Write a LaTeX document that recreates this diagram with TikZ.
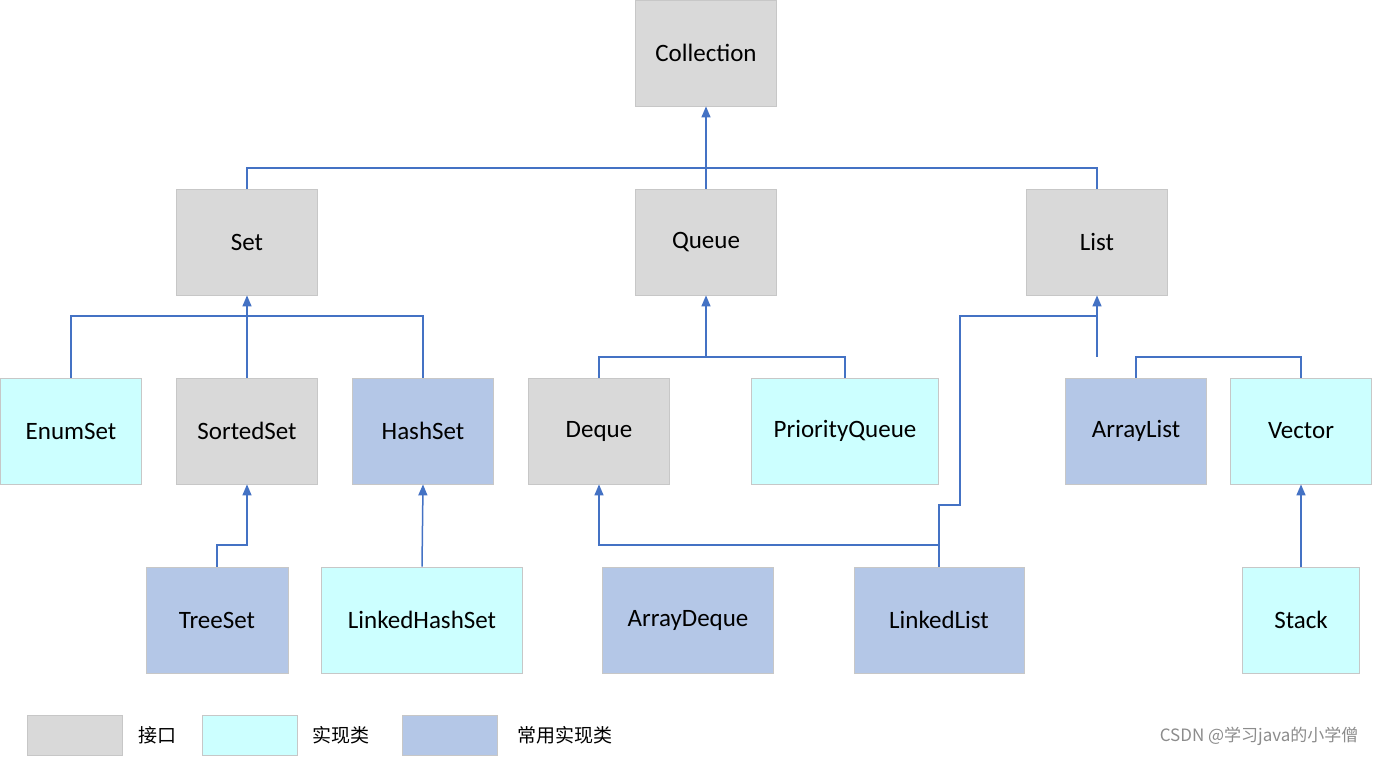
\documentclass[tikz,border=0pt]{standalone}
\usepackage{fontspec}
\setmainfont{Carlito}
\newfontfamily\cjk{Noto Sans CJK SC}
\usetikzlibrary{arrows.meta}
\definecolor{ifc}{HTML}{D9D9D9}
\definecolor{imp}{HTML}{CCFFFF}
\definecolor{com}{HTML}{B4C7E7}
\definecolor{ln}{HTML}{4472C4}
\tikzset{
 box/.style={draw=black!22,line width=0.8pt,minimum height=106pt,minimum width=141pt,inner sep=0pt,font=\fontsize{25}{25}\selectfont},
 gi/.style={box,fill=ifc}, ci/.style={box,fill=imp}, bi/.style={box,fill=com},
 con/.style={draw=ln,line width=1.5pt},
 arr/.style={con,-{Triangle[length=11pt,width=9pt]}},
 leg/.style={draw=black!22,minimum width=95pt,minimum height=40pt,inner sep=0pt},
 lt/.style={anchor=west,font=\cjk\fontsize{19}{19}\selectfont}
}
\begin{document}
\begin{tikzpicture}[x=1pt,y=-1pt]
\useasboundingbox (0,0) rectangle (1374,756);
\node[gi] (col) at (706,53) {Collection};
\node[gi] (set) at (247,242) {Set};
\node[gi] (que) at (706,242) {Queue};
\node[gi] (lst) at (1097,242) {List};
\node[ci] (enum) at (71,431) {EnumSet};
\node[gi] (sset) at (247,431) {SortedSet};
\node[bi] (hset) at (423,431) {HashSet};
\node[gi] (deq) at (599,431) {Deque};
\node[ci,minimum width=187pt] (pq) at (845,431) {PriorityQueue};
\node[bi] (al) at (1136,431) {ArrayList};
\node[ci] (vec) at (1301,431) {Vector};
\node[bi,minimum width=142pt] (tset) at (217,620) {TreeSet};
\node[ci,minimum width=201pt] (lhs) at (422,620) {LinkedHashSet};
\node[bi,minimum width=171pt] (ad) at (688,620) {ArrayDeque};
\node[bi,minimum width=170pt] (ll) at (939,620) {LinkedList};
\node[ci,minimum width=117pt] (stk) at (1301,620) {Stack};
% Collection
\draw[con] (set.north) -- (247,168) -- (1097,168) -- (lst.north);
\draw[arr] (que.north) -- (col.south);
% Set
\draw[con] (enum.north) -- (71,316) -- (423,316) -- (hset.north);
\draw[arr] (sset.north) -- (set.south);
\draw[arr] (tset.north) -- (217,545) -- (247,545) -- (sset.south);
\draw[arr] (lhs.north) -- (hset.south);
% Queue
\draw[con] (deq.north) -- (599,357) -- (845,357) -- (pq.north);
\draw[arr] (706,357) -- (que.south);
\draw[arr] (939,545) -- (599,545) -- (deq.south);
% List
\draw[arr] (ll.north) -- (939,505) -- (960,505) -- (960,316) -- (1097,316) -- (lst.south);
\draw[con] (al.north) -- (1136,357) -- (1301,357) -- (vec.north);
\draw[con] (1097,316) -- (1097,357);
\draw[arr] (stk.north) -- (vec.south);
% legend
\node[leg,fill=ifc] (l1) at (75,735) {};
\node[lt] (t1) at (135,735) {接口};
\node[leg,fill=imp] (l2) at (250,735) {};
\node[lt] (t2) at (309,735) {实现类};
\node[leg,fill=com] (l3) at (450,735) {};
\node[lt] (t3) at (514,735) {常用实现类};
\node[anchor=east,text=black!45,font=\cjk\fontsize{17}{17}\selectfont] (wm) at (1362,736) {CSDN @学习java的小学僧};
\end{tikzpicture}
\end{document}
